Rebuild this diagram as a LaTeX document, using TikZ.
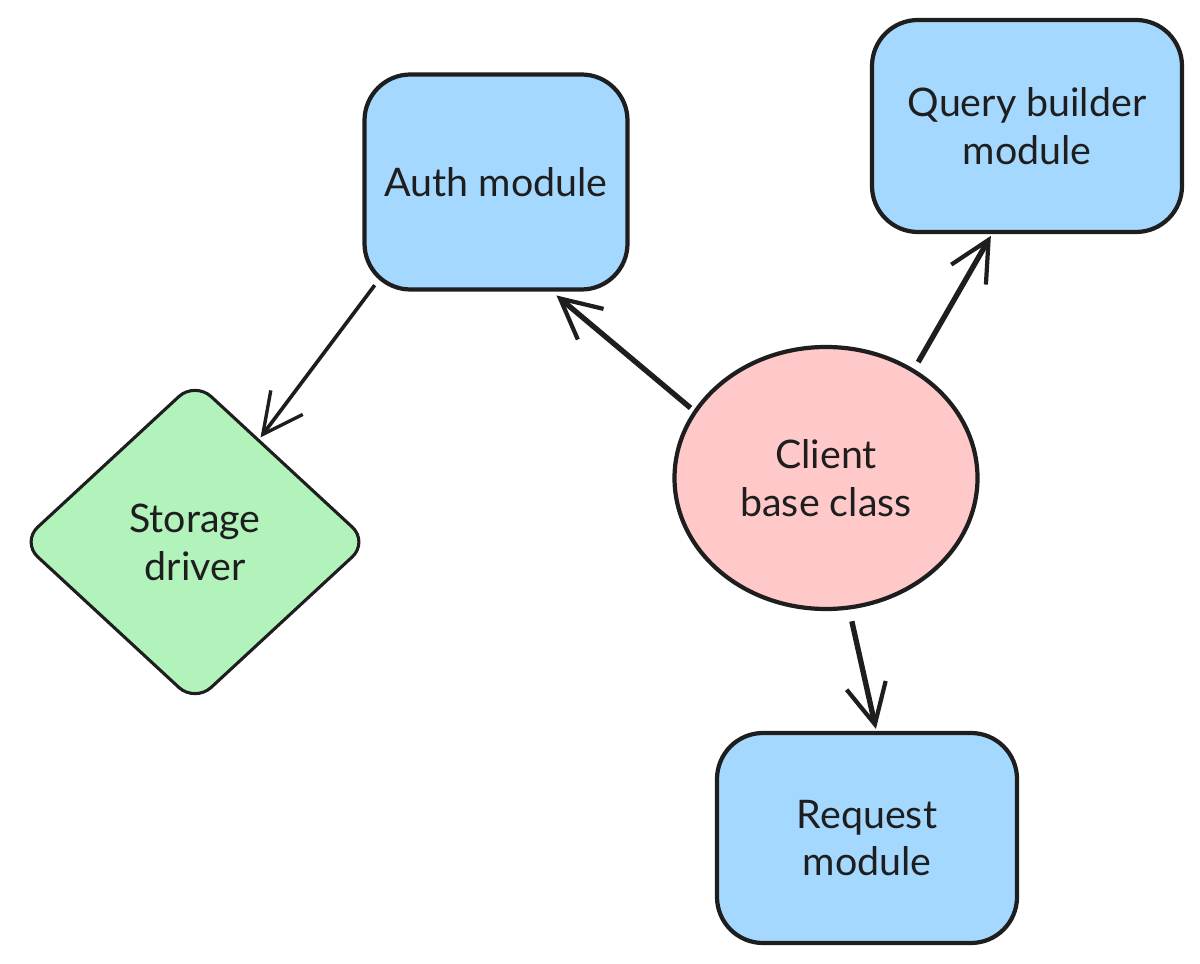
\documentclass[tikz,border=0pt]{standalone}
\usepackage{xcolor}
\usepackage{fontspec}
\usepackage{tikz}
\usetikzlibrary{positioning,shapes.geometric,arrows.meta}
\setmainfont{Lato}
\definecolor{inkcol}{HTML}{1E1E1E}
\definecolor{modulecol}{HTML}{A5D8FF}
\definecolor{drivercol}{HTML}{B2F2BB}
\definecolor{basecol}{HTML}{FFC9C9}
\tikzset{
	base/.style={draw=inkcol, line width=3pt, align=center, text=inkcol, inner sep=0pt, font=\fontsize{28}{34}\selectfont},
	module/.style={base, rectangle, rounded corners=1.15cm, fill=modulecol},
	driver/.style={base, diamond, rounded corners=0.55cm, fill=drivercol, line width=2.2pt},
	client/.style={base, ellipse, fill=basecol},
	link/.style={draw=inkcol, line width=3.8pt, -{Straight Barb[length=1cm, width=1cm, line width=3pt]}},
	thinlink/.style={link, line width=2.6pt, -{Straight Barb[length=1cm, width=1cm, line width=2.4pt]}},
}

\begin{document}
\begin{tikzpicture}
	\useasboundingbox (0,0) rectangle (30,24.075);
	\node[module, minimum width=6.575cm, minimum height=5.375cm] (auth) at (12.4,19.525) {Auth module};
	\node[module, minimum width=7.75cm, minimum height=5.3cm] (query) at (25.675,20.925) {Query builder\\module};
	\node[module, minimum width=7.5cm, minimum height=5.25cm] (request) at (21.675,3.125) {Request\\module};
	\node[client, minimum width=7.575cm, minimum height=6.55cm] (base) at (20.65,12.125) {Client\\base class};
	\node[driver, minimum width=8.7cm, minimum height=8.05cm] (storage) at (4.875,10.525) {Storage\\driver};
	\draw[thinlink, shorten <=-0.2cm, shorten >=0.05cm] (auth.221) -- (storage.58);
	\draw[link, shorten <=0.1cm, shorten >=0.15cm] (base.153) -- (auth.-63);
	\draw[link, shorten <=0.2cm, shorten >=0.05cm] (base.51) -- (query.252);
	\draw[link, shorten <=0.3cm, shorten >=0.05cm] (base.-80) -- (request.85);
\end{tikzpicture}
\end{document}
